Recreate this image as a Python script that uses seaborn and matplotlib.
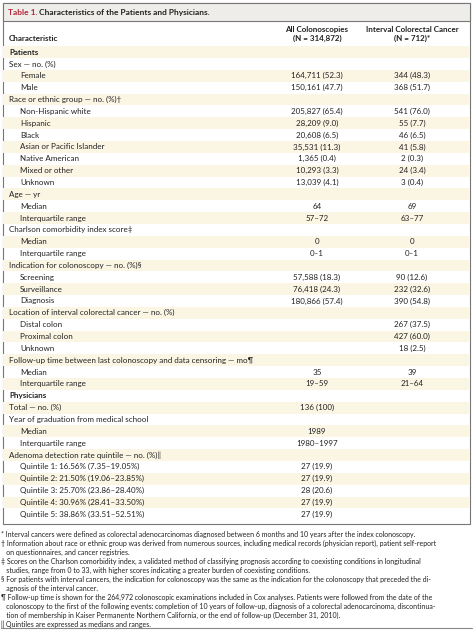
import matplotlib.pyplot as plt
import seaborn as sns

sns.set_style("white")
plt.rcParams['font.family'] = ['Lato', 'DejaVu Sans']

# Table data
labels = ["Patients", "Sex — no. (%)", "Female", "Male",
          "Race or ethnic group — no. (%)†", "Non-Hispanic white", "Hispanic", "Black",
          "Asian or Pacific Islander", "Native American", "Mixed or other", "Unknown",
          "Age — yr", "Median", "Interquartile range",
          "Charlson comorbidity index score‡", "Median", "Interquartile range",
          "Indication for colonoscopy — no. (%)§", "Screening", "Surveillance", "Diagnosis",
          "Location of interval colorectal cancer — no. (%)", "Distal colon", "Proximal colon", "Unknown",
          "Follow-up time between last colonoscopy and data censoring — mo¶", "Median", "Interquartile range",
          "Physicians", "Total — no. (%)", "Year of graduation from medical school", "Median", "Interquartile range",
          "Adenoma detection rate quintile — no. (%)‖",
          "Quintile 1: 16.56% (7.35–19.05%)", "Quintile 2: 21.50% (19.06–23.85%)",
          "Quintile 3: 25.70% (23.86–28.40%)", "Quintile 4: 30.96% (28.41–33.50%)",
          "Quintile 5: 38.86% (33.51–52.51%)"]
levels = [0, 1, 2, 2, 1, 2, 2, 2, 2, 2, 2, 2, 1, 2, 2, 1, 2, 2, 1, 2, 2, 2, 1, 2, 2, 2,
          1, 2, 2, 0, 1, 1, 2, 2, 1, 2, 2, 2, 2, 2]
all_colonoscopies = ["", "", "164,711 (52.3)", "150,161 (47.7)", "", "205,827 (65.4)", "28,209 (9.0)",
                     "20,608 (6.5)", "35,531 (11.3)", "1,365 (0.4)", "10,293 (3.3)", "13,039 (4.1)",
                     "", "64", "57–72", "", "0", "0–1", "", "57,588 (18.3)", "76,418 (24.3)",
                     "180,866 (57.4)", "", "", "", "", "", "35", "19–59", "", "136 (100)", "",
                     "1989", "1980–1997", "", "27 (19.9)", "27 (19.9)", "28 (20.6)", "27 (19.9)", "27 (19.9)"]
interval_cancer = ["", "", "344 (48.3)", "368 (51.7)", "", "541 (76.0)", "55 (7.7)", "46 (6.5)",
                   "41 (5.8)", "2 (0.3)", "24 (3.4)", "3 (0.4)", "", "69", "63–77", "", "0", "0–1",
                   "", "90 (12.6)", "232 (32.6)", "390 (54.8)", "", "267 (37.5)", "427 (60.0)",
                   "18 (2.5)", "", "39", "21–64", "", "", "", "", "", "", "", "", "", "", ""]
footnote_lines = [
    "* Interval cancers were defined as colorectal adenocarcinomas diagnosed between 6 months and 10 years after the index colonoscopy.",
    "† Information about race or ethnic group was derived from numerous sources, including medical records (physician report), patient self-report",
    "   on questionnaires, and cancer registries.",
    "‡ Scores on the Charlson comorbidity index, a validated method of classifying prognosis according to coexisting conditions in longitudinal",
    "   studies, range from 0 to 33, with higher scores indicating a greater burden of coexisting conditions.",
    "§ For patients with interval cancers, the indication for colonoscopy was the same as the indication for the colonoscopy that preceded the di-",
    "   agnosis of the interval cancer.",
    "¶ Follow-up time is shown for the 264,972 colonoscopic examinations included in Cox analyses. Patients were followed from the date of the",
    "   colonoscopy to the first of the following events: completion of 10 years of follow-up, diagnosis of a colorectal adenocarcinoma, discontinua-",
    "   tion of membership in Kaiser Permanente Northern California, or the end of follow-up (December 31, 2010).",
    "‖ Quintiles are expressed as medians and ranges.",
]

fig = plt.figure(figsize=(4.74, 6.3), dpi=100)
ax = fig.add_axes([0, 0, 1, 1])
ax.set_xlim(0, 474)
ax.set_ylim(630, 0)
ax.axis("off")

fs = 5.8
txt = "#222222"
stripe = "#fbf5e4"
row_top, row_h = 46.2, 11.85
x_col1, x_col2 = 317, 412

# frame and title bar
ax.add_patch(plt.Rectangle((3, 3), 467, 521, fill=False, ec="#777777", lw=0.8))
ax.add_patch(plt.Rectangle((3, 3), 467, 18, fc="#eeedea", ec="#777777", lw=0.8))
ax.text(8, 12.5, "Table 1.", color="#b0283c", fontsize=6.0, fontweight="bold", va="center")
ax.text(39.5, 12.5, "Characteristics of the Patients and Physicians.", color=txt,
        fontsize=6.0, fontweight="bold", va="center")

# header
ax.text(9, 38.5, "Characteristic", fontsize=fs, fontweight="bold", color=txt, va="center")
ax.text(x_col1, 34, "All Colonoscopies\n(N = 314,872)", fontsize=fs, fontweight="bold",
        color=txt, va="center", ha="center", linespacing=1.15)
ax.text(x_col2, 34, "Interval Colorectal Cancer\n(N = 712)*", fontsize=fs, fontweight="bold",
        color=txt, va="center", ha="center", linespacing=1.15)

for i, lab in enumerate(labels):
    y = row_top + i * row_h
    if i % 2 == 0:
        ax.add_patch(plt.Rectangle((3.5, y), 466, row_h, fc=stripe, ec="none"))
    yc = y + row_h / 2
    ax.text(9 + 11 * max(levels[i] - 1, 0), yc, lab, fontsize=fs, color=txt, va="center",
            fontweight="bold" if levels[i] == 0 else "normal")
    ax.text(x_col1, yc, all_colonoscopies[i], fontsize=fs, color=txt, va="center", ha="center")
    ax.text(x_col2, yc, interval_cancer[i], fontsize=fs, color=txt, va="center", ha="center")

# footnotes
for k, line in enumerate(footnote_lines):
    ax.text(1, 534.5 + 9.0 * k, line, fontsize=5.0, color=txt, va="center")
ax.plot([1, 472], [628, 628], color="#888888", lw=0.8)

fig.savefig("out.png", dpi=100)
